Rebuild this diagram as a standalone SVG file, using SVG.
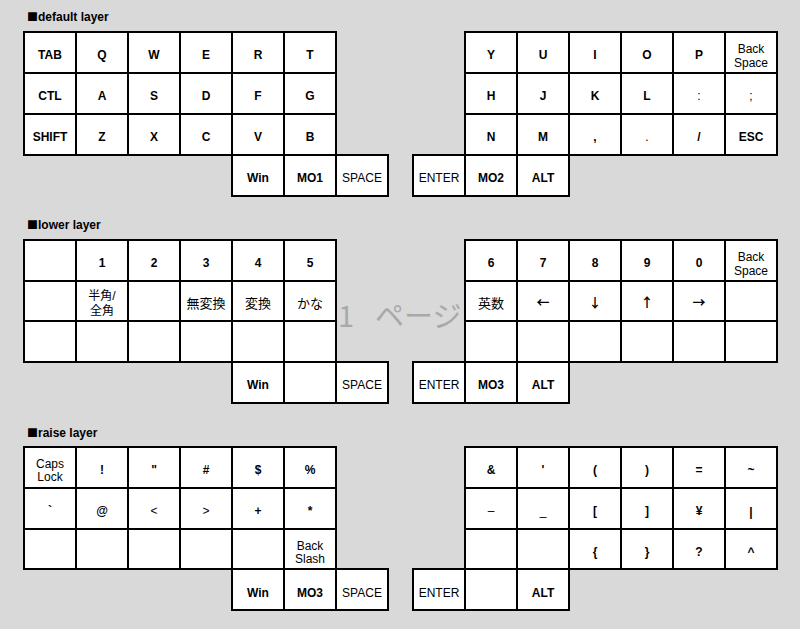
<svg xmlns="http://www.w3.org/2000/svg" width="800" height="629" viewBox="0 0 800 629">
<style>
rect.k{fill:#fff;stroke:#000;stroke-width:2}
text{font-family:"Liberation Sans","Noto Sans CJK JP",sans-serif;font-size:12px;font-weight:bold;text-anchor:middle;fill:#000}
text.r{font-weight:normal}
text.j{font-family:"Noto Sans CJK JP",sans-serif;font-size:13px;font-weight:normal}
text.j2{font-family:"Liberation Sans","Noto Sans CJK JP",sans-serif;font-size:12px;font-weight:normal}
text.a{font-family:"Noto Sans CJK JP",sans-serif;font-size:13px;font-weight:bold}
text.h{text-anchor:start;font-size:12px}
tspan.sq{font-family:"Noto Sans CJK JP",sans-serif;font-size:11px}
text.wm{font-family:"Noto Sans CJK JP",sans-serif;font-size:29px;font-weight:normal;fill:#a9a9a9;text-anchor:start}
</style>
<rect x="0" y="0" width="800" height="629" fill="#d9d9d9"/>
<text class="wm" x="338" y="327">1<tspan x="375">ページ</tspan></text>

<g id="title-default"><text class="h" x="27" y="21"><tspan class="sq">■</tspan>default layer</text></g>
<g id="title-lower"><text class="h" x="27" y="229"><tspan class="sq">■</tspan>lower layer</text></g>
<g id="title-raise"><text class="h" x="27" y="437"><tspan class="sq">■</tspan>raise layer</text></g>

<g id="default-layer">
<g id="d-tab"><rect class="k" x="24" y="32" width="52" height="41"/><text x="50" y="59">TAB</text></g>
<g id="d-q"><rect class="k" x="76" y="32" width="52" height="41"/><text x="102" y="59">Q</text></g>
<g id="d-w"><rect class="k" x="128" y="32" width="52" height="41"/><text x="154" y="59">W</text></g>
<g id="d-e"><rect class="k" x="180" y="32" width="52" height="41"/><text x="206" y="59">E</text></g>
<g id="d-r"><rect class="k" x="232" y="32" width="52" height="41"/><text x="258" y="59">R</text></g>
<g id="d-t"><rect class="k" x="284" y="32" width="52" height="41"/><text x="310" y="59">T</text></g>
<g id="d-ctl"><rect class="k" x="24" y="73" width="52" height="41"/><text x="50" y="100">CTL</text></g>
<g id="d-a"><rect class="k" x="76" y="73" width="52" height="41"/><text x="102" y="100">A</text></g>
<g id="d-s"><rect class="k" x="128" y="73" width="52" height="41"/><text x="154" y="100">S</text></g>
<g id="d-d"><rect class="k" x="180" y="73" width="52" height="41"/><text x="206" y="100">D</text></g>
<g id="d-f"><rect class="k" x="232" y="73" width="52" height="41"/><text x="258" y="100">F</text></g>
<g id="d-g"><rect class="k" x="284" y="73" width="52" height="41"/><text x="310" y="100">G</text></g>
<g id="d-shift"><rect class="k" x="24" y="114" width="52" height="41"/><text x="50" y="141">SHIFT</text></g>
<g id="d-z"><rect class="k" x="76" y="114" width="52" height="41"/><text x="102" y="141">Z</text></g>
<g id="d-x"><rect class="k" x="128" y="114" width="52" height="41"/><text x="154" y="141">X</text></g>
<g id="d-c"><rect class="k" x="180" y="114" width="52" height="41"/><text x="206" y="141">C</text></g>
<g id="d-v"><rect class="k" x="232" y="114" width="52" height="41"/><text x="258" y="141">V</text></g>
<g id="d-b"><rect class="k" x="284" y="114" width="52" height="41"/><text x="310" y="141">B</text></g>
<g id="d-win"><rect class="k" x="232" y="155" width="52" height="41"/><text x="258" y="182">Win</text></g>
<g id="d-mo1"><rect class="k" x="284" y="155" width="52" height="41"/><text x="310" y="182">MO1</text></g>
<g id="d-space"><rect class="k" x="336" y="155" width="52" height="41"/><text class="r" x="362" y="182">SPACE</text></g>

<g id="d-y"><rect class="k" x="465" y="32" width="52" height="41"/><text x="491" y="59">Y</text></g>
<g id="d-u"><rect class="k" x="517" y="32" width="52" height="41"/><text x="543" y="59">U</text></g>
<g id="d-i"><rect class="k" x="569" y="32" width="52" height="41"/><text x="595" y="59">I</text></g>
<g id="d-o"><rect class="k" x="621" y="32" width="52" height="41"/><text x="647" y="59">O</text></g>
<g id="d-p"><rect class="k" x="673" y="32" width="52" height="41"/><text x="699" y="59">P</text></g>
<g id="d-bs"><rect class="k" x="725" y="32" width="52" height="41"/><text class="r" x="751" y="52.5">Back</text><text class="r" x="751" y="66.5">Space</text></g>
<g id="d-h"><rect class="k" x="465" y="73" width="52" height="41"/><text x="491" y="100">H</text></g>
<g id="d-j"><rect class="k" x="517" y="73" width="52" height="41"/><text x="543" y="100">J</text></g>
<g id="d-k"><rect class="k" x="569" y="73" width="52" height="41"/><text x="595" y="100">K</text></g>
<g id="d-l"><rect class="k" x="621" y="73" width="52" height="41"/><text x="647" y="100">L</text></g>
<g id="d-colon"><rect class="k" x="673" y="73" width="52" height="41"/><text class="r" x="699" y="100">:</text></g>
<g id="d-semi"><rect class="k" x="725" y="73" width="52" height="41"/><text class="r" x="751" y="100">;</text></g>
<g id="d-n"><rect class="k" x="465" y="114" width="52" height="41"/><text x="491" y="141">N</text></g>
<g id="d-m"><rect class="k" x="517" y="114" width="52" height="41"/><text x="543" y="141">M</text></g>
<g id="d-comma"><rect class="k" x="569" y="114" width="52" height="41"/><text x="595" y="141">,</text></g>
<g id="d-dot"><rect class="k" x="621" y="114" width="52" height="41"/><text class="r" x="647" y="141">.</text></g>
<g id="d-slash"><rect class="k" x="673" y="114" width="52" height="41"/><text x="699" y="141">/</text></g>
<g id="d-esc"><rect class="k" x="725" y="114" width="52" height="41"/><text x="751" y="141">ESC</text></g>
<g id="d-enter"><rect class="k" x="413" y="155" width="52" height="41"/><text class="r" x="439" y="182">ENTER</text></g>
<g id="d-mo2"><rect class="k" x="465" y="155" width="52" height="41"/><text x="491" y="182">MO2</text></g>
<g id="d-alt"><rect class="k" x="517" y="155" width="52" height="41"/><text x="543" y="182">ALT</text></g>
</g>

<g id="lower-layer">
<g id="l-0"><rect class="k" x="24" y="240" width="52" height="41"/></g>
<g id="l-1"><rect class="k" x="76" y="240" width="52" height="41"/><text x="102" y="267">1</text></g>
<g id="l-2"><rect class="k" x="128" y="240" width="52" height="41"/><text x="154" y="267">2</text></g>
<g id="l-3"><rect class="k" x="180" y="240" width="52" height="41"/><text x="206" y="267">3</text></g>
<g id="l-4"><rect class="k" x="232" y="240" width="52" height="41"/><text x="258" y="267">4</text></g>
<g id="l-5"><rect class="k" x="284" y="240" width="52" height="41"/><text x="310" y="267">5</text></g>
<g id="l-r1c0"><rect class="k" x="24" y="281" width="52" height="40"/></g>
<g id="l-hankaku"><rect class="k" x="76" y="281" width="52" height="40"/><text class="j2"><tspan x="102" y="300">半角/</tspan><tspan x="102" y="314.5">全角</tspan></text></g>
<g id="l-r1c2"><rect class="k" x="128" y="281" width="52" height="40"/></g>
<g id="l-muhenkan"><rect class="k" x="180" y="281" width="52" height="40"/><text class="j" x="206" y="307.5">無変換</text></g>
<g id="l-henkan"><rect class="k" x="232" y="281" width="52" height="40"/><text class="j" x="258" y="307.5">変換</text></g>
<g id="l-kana"><rect class="k" x="284" y="281" width="52" height="40"/><text class="j" x="310" y="307.5">かな</text></g>
<g id="l-r2c0"><rect class="k" x="24" y="321" width="52" height="41"/></g>
<g id="l-r2c1"><rect class="k" x="76" y="321" width="52" height="41"/></g>
<g id="l-r2c2"><rect class="k" x="128" y="321" width="52" height="41"/></g>
<g id="l-r2c3"><rect class="k" x="180" y="321" width="52" height="41"/></g>
<g id="l-r2c4"><rect class="k" x="232" y="321" width="52" height="41"/></g>
<g id="l-r2c5"><rect class="k" x="284" y="321" width="52" height="41"/></g>
<g id="l-win"><rect class="k" x="232" y="362" width="52" height="41"/><text x="258" y="389">Win</text></g>
<g id="l-t1"><rect class="k" x="284" y="362" width="52" height="41"/></g>
<g id="l-space"><rect class="k" x="336" y="362" width="52" height="41"/><text class="r" x="362" y="389">SPACE</text></g>

<g id="l-6"><rect class="k" x="465" y="240" width="52" height="41"/><text x="491" y="267">6</text></g>
<g id="l-7"><rect class="k" x="517" y="240" width="52" height="41"/><text x="543" y="267">7</text></g>
<g id="l-8"><rect class="k" x="569" y="240" width="52" height="41"/><text x="595" y="267">8</text></g>
<g id="l-9"><rect class="k" x="621" y="240" width="52" height="41"/><text x="647" y="267">9</text></g>
<g id="l-0k"><rect class="k" x="673" y="240" width="52" height="41"/><text x="699" y="267">0</text></g>
<g id="l-bs"><rect class="k" x="725" y="240" width="52" height="41"/><text class="r" x="751" y="260.5">Back</text><text class="r" x="751" y="274.5">Space</text></g>
<g id="l-eisu"><rect class="k" x="465" y="281" width="52" height="40"/><text class="j" x="491" y="307.5">英数</text></g>
<g id="l-left"><rect class="k" x="517" y="281" width="52" height="40"/><text class="a" x="543" y="307">←</text></g>
<g id="l-down"><rect class="k" x="569" y="281" width="52" height="40"/><text class="a" x="595" y="307">↓</text></g>
<g id="l-up"><rect class="k" x="621" y="281" width="52" height="40"/><text class="a" x="647" y="307">↑</text></g>
<g id="l-right"><rect class="k" x="673" y="281" width="52" height="40"/><text class="a" x="699" y="307">→</text></g>
<g id="l-r1c11"><rect class="k" x="725" y="281" width="52" height="40"/></g>
<g id="l-r2c6"><rect class="k" x="465" y="321" width="52" height="41"/></g>
<g id="l-r2c7"><rect class="k" x="517" y="321" width="52" height="41"/></g>
<g id="l-r2c8"><rect class="k" x="569" y="321" width="52" height="41"/></g>
<g id="l-r2c9"><rect class="k" x="621" y="321" width="52" height="41"/></g>
<g id="l-r2c10"><rect class="k" x="673" y="321" width="52" height="41"/></g>
<g id="l-r2c11"><rect class="k" x="725" y="321" width="52" height="41"/></g>
<g id="l-enter"><rect class="k" x="413" y="362" width="52" height="41"/><text class="r" x="439" y="389">ENTER</text></g>
<g id="l-mo3"><rect class="k" x="465" y="362" width="52" height="41"/><text x="491" y="389">MO3</text></g>
<g id="l-alt"><rect class="k" x="517" y="362" width="52" height="41"/><text x="543" y="389">ALT</text></g>
</g>

<g id="raise-layer">
<g id="r-caps"><rect class="k" x="24" y="447" width="52" height="41"/><text class="r" x="50" y="467.5">Caps</text><text class="r" x="50" y="481">Lock</text></g>
<g id="r-excl"><rect class="k" x="76" y="447" width="52" height="41"/><text x="102" y="474">!</text></g>
<g id="r-dq"><rect class="k" x="128" y="447" width="52" height="41"/><text x="154" y="474">"</text></g>
<g id="r-hash"><rect class="k" x="180" y="447" width="52" height="41"/><text x="206" y="474">#</text></g>
<g id="r-dollar"><rect class="k" x="232" y="447" width="52" height="41"/><text x="258" y="474">$</text></g>
<g id="r-pct"><rect class="k" x="284" y="447" width="52" height="41"/><text x="310" y="474">%</text></g>
<g id="r-bt"><rect class="k" x="24" y="488" width="52" height="41"/><text x="50" y="515">`</text></g>
<g id="r-at"><rect class="k" x="76" y="488" width="52" height="41"/><text x="102" y="515">@</text></g>
<g id="r-lt"><rect class="k" x="128" y="488" width="52" height="41"/><text class="r" x="154" y="515">&lt;</text></g>
<g id="r-gt"><rect class="k" x="180" y="488" width="52" height="41"/><text class="r" x="206" y="515">&gt;</text></g>
<g id="r-plus"><rect class="k" x="232" y="488" width="52" height="41"/><text x="258" y="515">+</text></g>
<g id="r-ast"><rect class="k" x="284" y="488" width="52" height="41"/><text x="310" y="515">*</text></g>
<g id="r-r2c0"><rect class="k" x="24" y="529" width="52" height="40"/></g>
<g id="r-r2c1"><rect class="k" x="76" y="529" width="52" height="40"/></g>
<g id="r-r2c2"><rect class="k" x="128" y="529" width="52" height="40"/></g>
<g id="r-r2c3"><rect class="k" x="180" y="529" width="52" height="40"/></g>
<g id="r-r2c4"><rect class="k" x="232" y="529" width="52" height="40"/></g>
<g id="r-bslash"><rect class="k" x="284" y="529" width="52" height="40"/><text class="r" x="310" y="549.5">Back</text><text class="r" x="310" y="563">Slash</text></g>
<g id="r-win"><rect class="k" x="232" y="569" width="52" height="41"/><text x="258" y="596.5">Win</text></g>
<g id="r-mo3"><rect class="k" x="284" y="569" width="52" height="41"/><text x="310" y="596.5">MO3</text></g>
<g id="r-space"><rect class="k" x="336" y="569" width="52" height="41"/><text class="r" x="362" y="596.5">SPACE</text></g>

<g id="r-amp"><rect class="k" x="465" y="447" width="52" height="41"/><text x="491" y="474">&amp;</text></g>
<g id="r-sq"><rect class="k" x="517" y="447" width="52" height="41"/><text x="543" y="474">'</text></g>
<g id="r-lp"><rect class="k" x="569" y="447" width="52" height="41"/><text x="595" y="474">(</text></g>
<g id="r-rp"><rect class="k" x="621" y="447" width="52" height="41"/><text x="647" y="474">)</text></g>
<g id="r-eq"><rect class="k" x="673" y="447" width="52" height="41"/><text x="699" y="474">=</text></g>
<g id="r-tilde"><rect class="k" x="725" y="447" width="52" height="41"/><text x="751" y="474">~</text></g>
<g id="r-minus"><rect class="k" x="465" y="488" width="52" height="41"/><text class="r" x="491" y="515">–</text></g>
<g id="r-us"><rect class="k" x="517" y="488" width="52" height="41"/><text class="r" x="543" y="515">_</text></g>
<g id="r-lb"><rect class="k" x="569" y="488" width="52" height="41"/><text x="595" y="515">[</text></g>
<g id="r-rb"><rect class="k" x="621" y="488" width="52" height="41"/><text x="647" y="515">]</text></g>
<g id="r-yen"><rect class="k" x="673" y="488" width="52" height="41"/><text x="699" y="515">¥</text></g>
<g id="r-pipe"><rect class="k" x="725" y="488" width="52" height="41"/><text x="751" y="516">|</text></g>
<g id="r-r2c6"><rect class="k" x="465" y="529" width="52" height="40"/></g>
<g id="r-r2c7"><rect class="k" x="517" y="529" width="52" height="40"/></g>
<g id="r-lc"><rect class="k" x="569" y="529" width="52" height="40"/><text x="595" y="556">{</text></g>
<g id="r-rc"><rect class="k" x="621" y="529" width="52" height="40"/><text x="647" y="556">}</text></g>
<g id="r-q"><rect class="k" x="673" y="529" width="52" height="40"/><text x="699" y="556">?</text></g>
<g id="r-caret"><rect class="k" x="725" y="529" width="52" height="40"/><text x="751" y="556">^</text></g>
<g id="r-enter"><rect class="k" x="413" y="569" width="52" height="41"/><text class="r" x="439" y="596.5">ENTER</text></g>
<g id="r-t1"><rect class="k" x="465" y="569" width="52" height="41"/></g>
<g id="r-alt"><rect class="k" x="517" y="569" width="52" height="41"/><text x="543" y="596.5">ALT</text></g>
</g>

<g id="connectors"/>
</svg>
